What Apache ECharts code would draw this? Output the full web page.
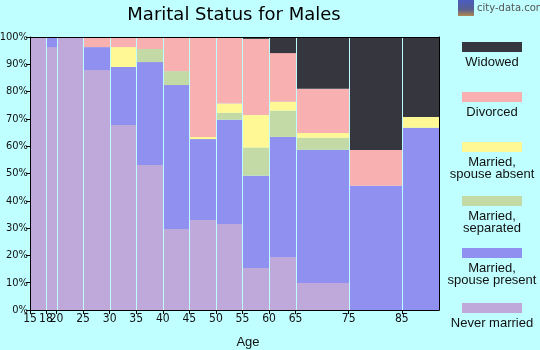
<!DOCTYPE html>
<html>
<head>
<meta charset="utf-8">
<script src="https://cdn.jsdelivr.net/npm/echarts@6/dist/echarts.min.js"></script>
<style>
html,body{margin:0;padding:0;background:#c0ffff;}
#chart{width:540px;height:350px;}
</style>
</head>
<body>
<div id="chart"></div>
<script>
// Age bin edges (last bin is 85+)
var binEdges = [15, 18, 20, 25, 30, 35, 40, 45, 50, 55, 60, 65, 75, 85, 92];
var xTickValues = [15, 18, 20, 25, 30, 35, 40, 45, 50, 55, 60, 65, 75, 85];
var yTickValues = [0, 10, 20, 30, 40, 50, 60, 70, 80, 90, 100];

// Shares (%) per age bin, stacked bottom to top in this order
var neverMarried     = [100, 96.3, 100, 87.9, 67.8, 53.1, 29.7, 33.0, 31.5, 15.4, 19.4,  9.9,  0.0,  0.0];
var spousePresent    = [  0,  3.7,   0,  8.4, 21.2, 37.7, 52.7, 29.6, 38.2, 33.8, 44.0, 48.8, 45.5, 66.8];
var separated        = [  0,    0,   0,    0,    0,  4.8,  5.1,    0,  2.5, 10.3,  9.6,  4.4,    0,    0];
var spouseAbsent     = [  0,    0,   0,    0,  7.3,    0,    0,  0.8,  3.4, 11.9,  3.3,  1.7,    0,  3.9];
var divorced         = [  0,    0,   0,  3.7,  3.7,  4.4, 12.5, 36.6, 24.4, 27.9, 17.8, 16.2, 13.1,    0];
var widowed          = [  0,    0,   0,    0,    0,    0,    0,    0,    0,  0.7,  5.9, 19.0, 41.4, 29.3];

var categoryNames = ['Never married', 'Married,\nspouse present', 'Married,\nseparated', 'Married,\nspouse absent', 'Divorced', 'Widowed'];
var categoryValues = [neverMarried, spousePresent, separated, spouseAbsent, divorced, widowed];
var categoryColors = ['#bea9da', '#9090f0', '#c4daa6', '#fff894', '#f8b0b0', '#36373e'];

var chart = echarts.init(document.getElementById('chart'));

// build stacked rectangles per category
var cumulative = binEdges.slice(0, -1).map(function(){ return 0; });
var series = categoryNames.map(function(name, ci){
  var vals = categoryValues[ci];
  var data = [];
  for (var i = 0; i < vals.length; i++) {
    var b = cumulative[i];
    var t = b + vals[i];
    cumulative[i] = t;
    if (vals[i] > 0) data.push([binEdges[i], binEdges[i + 1], b, t]);
  }
  return {
    type: 'custom',
    name: name,
    z: 2,
    data: data,
    encode: { x: [0, 1], y: [2, 3] },
    renderItem: function(params, api){
      var x0 = api.value(0), x1 = api.value(1), y0 = api.value(2), y1 = api.value(3);
      var p0 = api.coord([x0, y0]), p1 = api.coord([x1, y1]);
      var left = Math.round(p0[0]) + (x0 > binEdges[0] ? 1 : 0);
      var right = Math.round(p1[0]);
      return {
        type: 'rect',
        shape: { x: left, y: p1[1], width: right - left, height: p0[1] - p1[1] },
        style: { fill: categoryColors[ci] }
      };
    }
  };
});

// legend (column, swatch above label), top to bottom
var legendOrder = [5, 4, 3, 2, 1, 0];
var legendSwatchY = [42, 92, 142, 196, 248, 303];
var graphics = [];
legendOrder.forEach(function(ci, k){
  graphics.push({
    type: 'rect', left: 462, top: legendSwatchY[k],
    shape: { width: 60, height: 10 },
    style: { fill: categoryColors[ci] }
  });
  graphics.push({
    type: 'text', x: 492, y: legendSwatchY[k] + 14,
    style: {
      text: categoryNames[ci], fill: '#111',
      font: '13px "Liberation Sans", Arial, sans-serif',
      textAlign: 'center', textVerticalAlign: 'top', lineHeight: 12.5
    }
  });
});
// title
graphics.push({
  type: 'text', x: 234, y: 15,
  style: { text: 'Marital Status for Males', fill: '#000', font: '18px "DejaVu Sans", sans-serif', textAlign: 'center', textVerticalAlign: 'middle' }
});
// axis name
graphics.push({
  type: 'text', x: 248, y: 342,
  style: { text: 'Age', fill: '#111', font: '13px "Liberation Sans", Arial, sans-serif', textAlign: 'center', textVerticalAlign: 'middle' }
});
// watermark
graphics.push({
  type: 'rect', left: 458, top: 0, shape: { width: 16, height: 16 },
  style: { fill: new echarts.graphic.LinearGradient(0, 0, 0, 1, [{offset: 0, color: '#4a5cc0'}, {offset: 0.6, color: '#5a6090'}, {offset: 1, color: '#b08a50'}]) }
});
graphics.push({
  type: 'text', x: 477, y: 8,
  style: { text: 'city-data.com', fill: '#555', font: '10px "DejaVu Sans", sans-serif', textAlign: 'left', textVerticalAlign: 'middle' }
});

var axisFont = '"Liberation Sans Narrow", "DejaVu Sans Condensed", "Liberation Sans", sans-serif';

chart.setOption({
  backgroundColor: '#c0ffff',
  animation: false,
  grid: { left: 30, right: 101, top: 37, bottom: 40, containLabel: false, outerBoundsMode: 'none' },
  xAxis: [{
    type: 'value', min: 15, max: 92, z: 10,
    axisLine: { show: true, lineStyle: { color: '#000', width: 1 } },
    axisTick: { show: true, length: 4, customValues: xTickValues, lineStyle: { color: '#000' } },
    axisLabel: { customValues: xTickValues, color: '#111', fontSize: 12, fontFamily: axisFont, margin: 3, hideOverlap: false },
    splitLine: { show: false }
  }, {
    type: 'value', min: 15, max: 92, position: 'top', z: 10,
    axisLine: { show: true, onZero: false, lineStyle: { color: '#000', width: 1 } },
    axisTick: { show: false }, axisLabel: { show: false }, splitLine: { show: false }
  }],
  yAxis: [{
    type: 'value', min: 0, max: 100, interval: 10, z: 10,
    axisLine: { show: true, lineStyle: { color: '#000', width: 1 } },
    axisTick: { show: true, length: 4, lineStyle: { color: '#000' } },
    axisLabel: { formatter: '{value}%', color: '#111', fontSize: 11, fontFamily: axisFont, margin: 2 },
    splitLine: { show: false }
  }, {
    type: 'value', min: 0, max: 100, position: 'right', z: 10,
    axisLine: { show: true, onZero: false, lineStyle: { color: '#000', width: 1 } },
    axisTick: { show: false }, axisLabel: { show: false }, splitLine: { show: false }
  }],
  series: series,
  graphic: graphics
});
</script>
</body>
</html>
